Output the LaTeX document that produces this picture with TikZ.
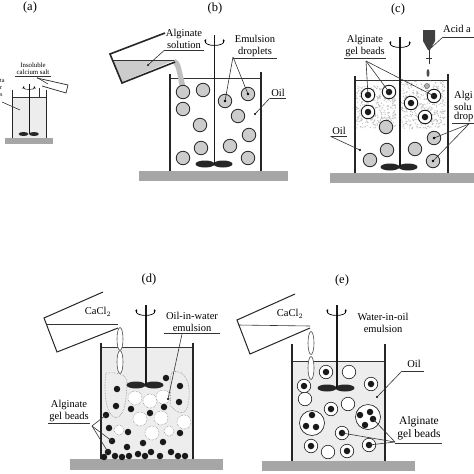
\documentclass[tikz,border=0pt]{standalone}
\usepackage{fontspec}
\setmainfont{Liberation Serif}
\usetikzlibrary{arrows.meta, shapes.geometric}
\tikzstyle{ground}   = [draw=none, fill=black!35]
\tikzstyle{wall}     = [line width=1.2pt, draw=black!85]
\tikzstyle{liquid}   = [draw=black!60, line width=0.5pt, fill=black!7]
\tikzstyle{shaft}    = [line width=1.5pt, draw=black!90]
\tikzstyle{paddle}   = [ellipse, draw=none, fill=black!85, inner sep=0pt, minimum width=19pt, minimum height=7pt]
\tikzstyle{spin}     = [line width=0.7pt, {Stealth[length=3pt]}-{Stealth[length=3pt]}]
\tikzstyle{droplet}  = [circle, draw=black!85, line width=0.8pt, fill=black!20, inner sep=0pt, minimum size=13.5pt]
\tikzstyle{gelbead}  = [circle, draw=black!90, line width=0.9pt, fill=white, inner sep=0pt, minimum size=13.5pt]
\tikzstyle{core}     = [circle, draw=none, fill=black!90, inner sep=0pt, minimum size=6.5pt]
\tikzstyle{hollow}   = [circle, draw=black!55, line width=0.5pt, fill=white, inner sep=0pt, minimum size=14pt]
\tikzstyle{leader}   = [line width=0.6pt, draw=black!80]
\tikzstyle{vessel}   = [line width=1pt, draw=black!85]
\tikzstyle{lens}     = [ellipse, draw=black!70, line width=0.6pt, fill=white, inner sep=0pt, minimum width=6pt, minimum height=23pt]
\tikzstyle{caption}  = [font=\fontsize{12.5}{14}\selectfont, inner sep=0pt]
\tikzstyle{tag}      = [font=\fontsize{10.5}{12}\selectfont, align=center, inner sep=1.5pt]
\begin{document}
\begin{tikzpicture}[x=1pt, y=-1pt]
    \useasboundingbox (0,0) rectangle (474,474);
    \clip (0,0) rectangle (474,474);
    \fill[white] (0,0) rectangle (474,474);

    % (a)
    \node (capA) [caption] at (30,7) {(a)};
    \fill[liquid, draw=none] (13,97.5) rectangle (46,138);
    \fill[ground] (5,138) rectangle (53,144);
    \draw[wall, line width=0.7pt] (12.5,90) -- (12.5,138);
    \draw[wall, line width=0.7pt] (46,90) -- (46,138);
    \draw[leader] (13,97.5) -- (46,97.5);
    \node (padA1) [paddle, minimum width=10pt, minimum height=4pt] at (23.5,134) {};
    \node (padA2) [paddle, minimum width=10pt, minimum height=4pt] at (34,134) {};
    \coordinate (topA) at (29,84);
    \coordinate (hubA) at (29,134);
    \draw[shaft, line width=0.7pt] (topA) -- (hubA);
    \draw[spin, line width=0.4pt] (24,86) .. controls (23,90) and (35,90) .. (34,86);
    \draw[vessel, line width=0.7pt] (37,78) -- (68,85) -- (66,93) -- (42,86);
    \draw[leader] (39,88) -- (39,97);
    \node (saltA) [tag, font=\fontsize{6.8}{7}\selectfont] at (33,69) {Insoluble\\calcium salt};
    \draw[leader] (saltA.south west) -- (saltA.south east);
    \coordinate (tipA) at (48,84);
    \draw[leader] (37,77.5) -- (tipA);
    \node (fragA1) [tag, anchor=west, inner sep=0pt, font=\fontsize{6.2}{7}\selectfont] at (0,81) {ta};
    \node (fragA2) [tag, anchor=west, inner sep=0pt, font=\fontsize{6.2}{7}\selectfont] at (0,88) {r};
    \node (fragA3) [tag, anchor=west, inner sep=0pt, font=\fontsize{6.2}{7}\selectfont] at (0,95) {s};
    \coordinate (fragEnd) at (20,110);
    \draw[leader] (2,102) -- (fragEnd);

    % (b)
    \node (capB) [caption] at (215,8) {(b)};
    \fill[ground] (139,171) rectangle (288,181);
    \draw[leader] (170,78) -- (261,78);
    \draw[wall] (170,74) -- (170,171);
    \draw[wall] (261,72) -- (261,171);
    \fill[black!20] (113,60) -- (175,60) -- (122,82) -- cycle;
    \draw[leader] (113,60) -- (175,60);
    \fill[black!25] (175,59) .. controls (181,60) and (181,70) .. (186,88) -- (180,88) .. controls (177,74) and (177,68) .. (173,63) -- cycle;
    \draw[vessel, line width=1.6pt] (165,33) -- (110,54) -- (122,83) -- (175,62);
    \foreach \name/\px/\py in {d1/183/92, d2/203/90, d3/183/109, d4/225/101, d5/238/116, d6/200/125,
                               d7/201/148, d8/230/146, d9/183/158, d10/248/94, d11/249/135, d12/248/158}
        \node (\name) [droplet] at (\px,\py) {};
    \node (padB1) [paddle] at (205,164) {};
    \node (padB2) [paddle] at (223,164) {};
    \coordinate (topB) at (214.5,35);
    \coordinate (hubB) at (214.5,164);
    \draw[shaft] (topB) -- (hubB);
    \draw[spin] (206,39) .. controls (203,47) and (226,47) .. (223,39);
    \node (solB) [tag] at (184,39) {Alginate\\solution};
    \draw[leader] (solB.south west) -- (solB.south east);
    \coordinate (solEnd) at (148,65);
    \draw[leader] (solB.south west) -- (solEnd);
    \fill (solEnd) circle (1pt);
    \node (dropB) [tag] at (255,46) {Emulsion\\droplets};
    \draw[leader] (dropB.south west) -- (dropB.south east);
    \draw[leader] (233,57) -- (d4.center);
    \draw[leader] (233,57) -- (d10.center);
    \fill (d4.center) circle (1.3pt) (d10.center) circle (1.3pt);
    \node (oilB) [tag] at (278,93) {Oil};
    \draw[leader] (oilB.south west) -- (oilB.south east);
    \coordinate (oilBEnd) at (255,114);
    \draw[leader] (oilB.south west) -- (oilBEnd);
    \fill (oilBEnd) circle (1.2pt);

    % (c)
    \node (capC) [caption] at (398,9) {(c)};
    \fill[ground] (330,173) rectangle (474,183);
    \draw[leader] (355,80) -- (448,80);
    \pgfmathsetseed{11}
    \foreach \i in {1,...,420}
        \fill[black!28] ({376+20*rand},{107+21*rand}) circle (0.6pt);
    \foreach \i in {1,...,420}
        \fill[black!28] ({423+22*rand},{105+24*rand}) circle (0.6pt);
    \draw[wall] (355,76) -- (355,173);
    \draw[wall] (448,74) -- (448,173);
    \foreach \name/\px/\py in {g1/368/95, g2/389/92, g3/434/96, g4/368/112, g5/411/103, g6/425/117} {
        \node (\name) [gelbead] at (\px,\py) {};
        \node (\name c) [core] at (\px,\py) {};
    }
    \foreach \name/\px/\py in {e1/386/127, e2/387/150, e3/415/149, e4/370/160, e5/434/138, e6/433/161}
        \node (\name) [droplet] at (\px,\py) {};
    \node (padC1) [paddle] at (390,167) {};
    \node (padC2) [paddle] at (408,167) {};
    \coordinate (topC) at (400,37);
    \coordinate (hubC) at (400,167);
    \draw[shaft] (topC) -- (hubC);
    \draw[spin] (391,41) .. controls (388,49) and (412,49) .. (409,41);
    \fill[black!75] (423,30) -- (435,30) -- (435,41) -- (430,50) -- (428,50) -- (423,41) -- cycle;
    \draw[line width=0.8pt, black!80] (429,50) -- (429,64) (426,58) -- (432,58);
    \node (fallC) [ellipse, draw=none, fill=black!70, inner sep=0pt, minimum width=3pt, minimum height=8pt] at (428,73) {};
    \node (landC) [circle, draw=black!70, fill=black!30, inner sep=0pt, minimum size=5pt] at (427,86) {};
    \node (acidC) [tag, anchor=west, inner sep=0pt] at (443,29) {Acid a};
    \coordinate (acidEnd) at (474,37);
    \draw[leader] (443,37) -- (acidEnd);
    \draw[leader] (443,37) -- (431,48);
    \node (gelC) [tag] at (365,46) {Alginate\\gel beads};
    \draw[leader] (gelC.south west) -- (gelC.south east);
    \draw[leader] (366,61) -- (g1.center);
    \draw[leader] (366,61) -- (g2.center);
    \draw[leader] (366,61) -- (g3.center);
    \node (solC1) [tag, anchor=west, inner sep=0pt] at (454,96) {Algi};
    \node (solC2) [tag, anchor=west, inner sep=0pt] at (454,107) {solu};
    \node (solC3) [tag, anchor=west, inner sep=0pt] at (454,117) {drop};
    \coordinate (solCa) at (452,123);
    \coordinate (solCb) at (474,123);
    \draw[leader] (solCa) -- (solCb);
    \draw[leader] (469,124) -- (e5.center);
    \draw[leader] (469,124) -- (e6.center);
    \fill (e5.center) circle (1.3pt) (e6.center) circle (1.3pt);
    \node (oilC) [tag] at (339,131) {Oil};
    \draw[leader] (oilC.south west) -- (oilC.south east);
    \coordinate (oilCEnd) at (360,150);
    \draw[leader] (oilC.south west) -- (oilCEnd);
    \fill (oilCEnd) circle (1.2pt);

    % (d)
    \node (capD) [caption] at (149,279) {(d)};
    \fill[liquid, draw=none] (101,347) rectangle (193,459);
    \fill[ground] (70,459) rectangle (223,470);
    \draw[leader] (101,347) -- (193,347);
    \draw[wall] (101,343) -- (101,459);
    \draw[wall] (193,343) -- (193,459);
    \draw[leader, draw=black!45, densely dotted] (106,373) .. controls (120,372) and (128,375) .. (127,385) .. controls (126,398) and (126,415) .. (116,418) .. controls (104,415) and (104,385) .. (106,373);
    \draw[leader, draw=black!45, densely dotted] (172,372) .. controls (186,368) and (192,385) .. (188,405) .. controls (185,418) and (175,412) .. (170,405) .. controls (172,392) and (168,380) .. (172,372);
    \foreach \name/\px/\py in {w1/135/398, w2/150/401, w3/163/397, w4/140/419, w5/161/418, w6/152/433, w7/184/422}
        \node (\name) [hollow, densely dotted] at (\px,\py) {};
    \node (w8) [hollow, densely dotted, minimum size=10pt] at (169,431) {};
    \node (w9) [hollow, densely dotted, minimum size=10pt] at (119,430) {};
    \foreach \name/\px/\py in {b1/117/389, b2/116/406, b3/131/409, b4/150/413, b5/166/378, b6/180/386, b7/179/402,
                               b8/164/407, b9/106/415, b10/109/428, b11/128/432, b12/112/441, b13/127/447, b14/143/443,
                               b15/163/442, b16/180/433, b17/104/457, b18/108/452, b19/115/456, b20/122/457, b21/129/456,
                               b22/138/454, b23/145/456, b24/151/452, b25/160/456, b26/171/452, b27/178/456, b28/185/456}
        \node (\name) [core] at (\px,\py) {};
    \draw[vessel] (103,292) -- (44,318) -- (57,352) -- (118,328);
    \draw[leader] (46,324) -- (118,324);
    \node (lensD1) [lens] at (120,339) {};
    \node (lensD2) [lens] at (120,362) {};
    \node (padD1) [paddle] at (136,385) {};
    \node (padD2) [paddle] at (154,385) {};
    \coordinate (topD) at (146,305);
    \coordinate (hubD) at (146,385);
    \draw[shaft] (topD) -- (hubD);
    \draw[spin] (137,309) .. controls (134,317) and (157,317) .. (154,309);
    \node (saltD) [tag] at (98,312) {CaCl$_2$};
    \node (emuD) [tag] at (192,321.5) {Oil-in-water\\emulsion};
    \draw[leader] (emuD.south west) -- (emuD.south east);
    \coordinate (emuEnd) at (168,399);
    \draw[leader] (182,334) -- (emuEnd);
    \fill (emuEnd) circle (1.2pt);
    \node (gelD) [tag] at (69,411) {Alginate\\gel beads};
    \draw[leader] (gelD.south west) -- (gelD.south east);
    \draw[leader] (92,426) -- (b9.center);
    \draw[leader] (92,426) -- (b12.center);
    \draw[leader] (92,426) -- (b18.center);

    % (e)
    \node (capE) [caption] at (342,280) {(e)};
    \fill[liquid, draw=none] (292,361) rectangle (385,461);
    \fill[ground] (262,461) rectangle (415,471);
    \draw[leader] (292,361) -- (385,361);
    \draw[wall] (292,344) -- (292,461);
    \draw[wall] (385,344) -- (385,461);
    \foreach \name/\px/\py in {k1/326/372, k2/304/386, k3/371/384, k4/331/409, k5/342/433, k6/311/446, k7/347/451, k8/369/445} {
        \node (\name) [gelbead, line width=0.6pt] at (\px,\py) {};
        \node (\name c) [core] at (\px,\py) {};
    }
    \foreach \name/\px/\py in {h1/349/372, h2/305/399, h3/348/404, h4/328/452}
        \node (\name) [gelbead, line width=0.6pt] at (\px,\py) {};
    \node (bigE1) [gelbead, line width=0.6pt, minimum size=25pt] at (312,423) {};
    \node (bigE2) [gelbead, line width=0.6pt, minimum size=25pt] at (368,417) {};
    \foreach \name/\px/\py in {m1/312/415, m2/306/426, m3/316/427, m4/370/412, m5/360/415, m6/373/419, m7/365/425}
        \node (\name) [core] at (\px,\py) {};
    \draw[vessel] (295,294) -- (237,320) -- (250,354) -- (310,328);
    \draw[leader] (238,325) -- (310,326);
    \node (lensE1) [lens] at (311,343) {};
    \node (lensE2) [lens] at (311,368) {};
    \node (padE1) [paddle] at (327,388) {};
    \node (padE2) [paddle] at (345,388) {};
    \coordinate (topE) at (337,305);
    \coordinate (hubE) at (337,388);
    \draw[shaft] (topE) -- (hubE);
    \draw[spin] (328,309) .. controls (325,317) and (348,317) .. (345,309);
    \node (saltE) [tag] at (290,314) {CaCl$_2$};
    \node (emuE) [tag] at (383,323) {Water-in-oil\\emulsion};
    \node (oilE) [tag] at (414,364) {Oil};
    \draw[leader] (402,371) -- (424,371);
    \coordinate (oilEEnd) at (377,397);
    \draw[leader] (402,371) -- (oilEEnd);
    \fill (oilEEnd) circle (1.2pt);
    \node (gelE) [tag, font=\fontsize{11.5}{13}\selectfont] at (419,428) {Alginate\\gel beads};
    \draw[leader] (395,443) -- (442,443);
    \draw[leader] (395,442) -- (k5.center);
    \draw[leader] (395,442) -- (k8.center);
    \draw[leader] (395,442) -- (m6.center);
\end{tikzpicture}
\end{document}
